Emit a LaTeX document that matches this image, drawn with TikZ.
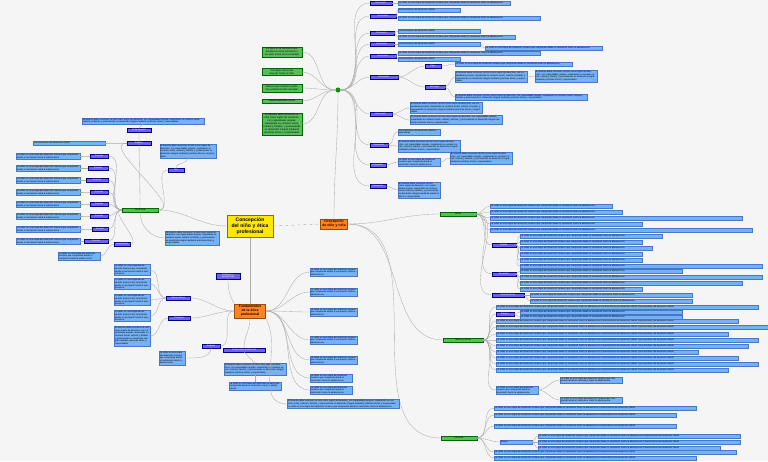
\documentclass[tikz,border=0pt]{standalone}
\usepackage{fontspec}
\setmainfont{Liberation Sans}
\definecolor{bfill}{RGB}{118,176,245}
\definecolor{bdraw}{RGB}{70,120,200}
\definecolor{pfill}{RGB}{112,96,240}
\definecolor{gfill}{RGB}{88,190,92}
\begin{document}
\begin{tikzpicture}[x=1pt,y=-1pt,
 base/.style={font=\fontsize{2.2}{2.6}\selectfont,inner sep=0.8pt,align=left,text width=#1},
 bl/.style={base=#1,fill=bfill,draw=bdraw,line width=0.2pt},
 pu/.style={base=#1,fill=pfill,draw=blue!50!black,line width=0.2pt,text=white,align=center},
 gr/.style={font=\fontsize{2.5}{3}\selectfont,fill=gfill,draw=green!40!black,line width=0.3pt,align=center,inner sep=1pt,text width=#1},
 orn/.style={font=\fontsize{3.4}{4}\selectfont\bfseries,fill=orange!85!red!85!white,draw=orange!60!black,line width=0.3pt,align=center,inner sep=1.6pt,text width=#1},
 con/.style={draw=gray!65,line width=0.35pt}]
\useasboundingbox (0,0) rectangle (768,461);
\fill[gray!8] (0,0) rectangle (768,461);
\def\s{Características del desarrollo infantil}
\def\m{La niñez es una etapa del desarrollo humano que comprende desde el nacimiento hasta la adolescencia}
\def\l{El docente debe reconocer al niño como sujeto de derechos, con capacidades propias, respetando su contexto social, cultural y familiar, y promoviendo su desarrollo integral mediante prácticas éticas y responsables}
\newcommand\Rn[6][bl=60]{\node[#1,anchor=west] (#2) at (#3,#4) {#5}; \draw[con] (#6.east) to[out=0,in=180] (#2.west);}
\newcommand\Ln[6][bl=60]{\node[#1,anchor=east] (#2) at (#3,#4) {#5}; \draw[con] (#6.west) to[out=180,in=0] (#2.east);}
\node[font=\fontsize{5}{6}\selectfont\bfseries,fill=yellow!90!orange,draw=orange!70!black,line width=0.3pt,align=center,text width=40,inner sep=3pt] (C) at (250,226) {Concepción del niño y ética profesional};
\node[orn=24] (N) at (334,224) {Concepción de niño y niña};
\node[orn=28] (F) at (250,311) {Fundamentos de la ética profesional};
\node[gr=34] (D) at (140,210) {Docencia};
\draw[con,dashed] (C.east) -- (N.west);
\draw[con] (C.south) -- (F.north);
\draw[con] (C.west) to[out=180,in=0] (D.east);
\node[circle,fill=green!60!black,inner sep=1.8pt] (G) at (338,90) {};
\draw[con] (N.north) to[out=90,in=-90] (G.south);
\Ln[gr=38]{g1}{302}{52}{La ética es la disciplina que estudia los actos humanos y su valor moral en la sociedad}{G}
\Ln[gr=38]{g2}{302}{72}{Principios éticos del docente frente al niño}{G}
\Ln[gr=38]{g3}{302}{88}{Valores que orientan la práctica profesional del educador}{G}
\Ln[gr=38]{g4}{302}{101}{Responsabilidad social}{G}
\Ln[gr=38]{g5}{302}{124}{\l}{G}
\foreach \i/\y/\w in {1/3/20,2/16/24,3/33/22,4/44/22,5/56/24,6/77/26,7/114/20,8/145/16,9/165/14,10/186/14}{
 \Rn[pu=\w]{p\i}{370}{\y}{Dimensión}{G}}
\Rn[bl=110]{t1}{398}{3}{\m}{p1}
\Rn[bl=60]{t2}{398}{10}{\s}{p2}
\Rn[bl=140]{t3}{398}{18}{\m}{p2}
\Rn[bl=80]{t4}{398}{31}{\s}{p3}
\Rn[bl=115]{t5}{398}{37}{\m}{p3}
\Rn[bl=80]{t6}{398}{44}{\s}{p4}
\Rn[bl=140]{t7}{398}{53}{\m}{p5}
\Rn[bl=60]{t8}{398}{59}{\s}{p5}
\Rn[pu=14]{q1}{425}{66}{Tipos}{p6}
\Rn[pu=18]{q2}{425}{87}{Enfoques}{p6}
\Rn[bl=115]{t9}{455}{64}{\m}{q1}
\Rn[bl=70]{t10}{455}{77}{\l}{q2}
\Rn[bl=130]{t11}{455}{97}{\l}{q2}
\Rn[bl=60]{t11b}{535}{76}{\l}{t10}
\Rn[bl=115]{t11c}{485}{48}{\m}{t6}
\Rn[bl=70]{t12}{410}{108}{\l}{p7}
\Rn[bl=90]{t13}{410}{120}{\l}{p7}
\Rn[bl=40]{t14}{398}{132}{\s\ y aprendizaje}{p8}
\Rn[bl=60]{t15}{398}{146}{\l}{p8}
\Rn[bl=40]{t16}{398}{162}{\m}{p9}
\Rn[bl=60]{t17}{450}{158}{\l}{t16}
\Rn[bl=40]{t18}{398}{190}{\l}{p10}
\node[gr=34] (A) at (458,214) {Niñez};
\draw[con] (N.east) to[out=0,in=180] (A.west);
\foreach \i/\y/\w in {1/206/120,2/212/130,3/218/250,4/224/150,5/230/260}{\Rn[bl=\w]{a\i}{490}{\y}{\m}{A}}
\Rn[pu=22]{ap1}{492}{245}{Etapas}{A}
\Rn[pu=22]{ap2}{492}{274}{Desarrollo}{A}
\Rn[pu=30]{ap3}{492}{295}{Características}{A}
\foreach \i/\y/\w in {1/236/140,2/242/120,3/248/130,4/254/120,5/260/120,6/266/240}{\Rn[bl=\w]{b\i}{520}{\y}{\m}{ap1}}
\foreach \i/\y/\w in {1/271/160,2/277/240,3/283/220,4/289/120}{\Rn[bl=\w]{c\i}{520}{\y}{\m}{ap2}}
\foreach \i/\y/\w in {1/295/160,2/301/160}{\Rn[bl=\w]{d\i}{530}{\y}{\m}{ap3}}
\node[gr=38] (B) at (463,340) {Niños y niñas};
\draw[con] (N.east) to[out=0,in=180] (B.west);
\foreach \i/\y/\w in {1/307/260,2/321/240,3/327/270,4/334/230,5/340/260,6/346/250,7/352/200,8/358/240,9/364/260,10/370/230}{\Rn[bl=\w]{e\i}{496}{\y}{\m\ \s\ \s}{B}}
\Rn[pu=16]{ep}{496}{314}{Rasgos}{B}
\Rn[bl=160]{ep1}{520}{312}{\m}{ep}
\Rn[bl=160]{ep2}{520}{317}{\m}{ep}
\Rn[bl=40]{ef}{496}{390}{\m}{B}
\Rn[bl=60]{ef1}{560}{380}{\m}{ef}
\Rn[bl=60]{ef2}{560}{400}{\m}{ef}
\node[gr=34] (I) at (459,438) {Infancia};
\draw[con] (N.east) to[out=0,in=180] (I.west);
\foreach \i/\y/\w in {1/408/200,2/415/180,3/426/180,4/452/240,5/458/200}{\Rn[bl=\w]{f\i}{494}{\y}{\m\ \s}{I}}
\Rn[bl=30]{fp}{500}{442}{Etapas}{I}
\foreach \i/\y/\w in {1/436/200,2/442/200,3/448/180}{\Rn[bl=\w]{h\i}{538}{\y}{\m\ \s}{fp}}
\Rn[pu=22]{dv}{127}{143}{Ámbitos}{D}
\node[pu=22] (du) at (139,130) {Perfil docente};
\draw[con] (D.north) to[out=90,in=-90] (du.south);
\node[bl=120,anchor=south] (dut) at (143,124) {\l};
\draw[con] (du.north) -- (dut.south);
\Ln[bl=70]{dvt}{105}{143}{\s}{dv}
\foreach \i/\y/\w in {1/156/16,2/168/18,3/180/20,4/192/16,5/204/16,6/216/16,7/229/14,8/241/22}{
 \Ln[pu=\w]{dp\i}{108}{\y}{Función}{D}
 \Ln[bl=62]{dt\i}{80}{\y}{\m}{dp\i}}
\Ln[pu=14]{dq}{130}{244}{Importancia}{D}
\Ln[bl=40]{dqt}{100}{256}{\m}{dq}
\Rn[pu=14]{dr}{168}{170}{Rol}{D}
\node[bl=55,anchor=south] (drt) at (188,158) {\l};
\draw[con] (dr.north) to[out=90,in=-90] (drt.south);
\node[bl=52] (dz) at (192,238) {\l};
\draw[con] (D.south) to[out=-90,in=180] (dz.west);
\foreach \i/\y/\w in {1/272/45,2/292/45,3/312/45,4/340/45,5/360/45,6/378/40,7/390/40}{\Rn[bl=\w]{k\i}{310}{\y}{\m}{F}}
\node[pu=22] (fu) at (228,276) {Enfoques y perspectivas};
\draw[con] (F.north west) to[out=120,in=-90] (fu.south);
\Ln[pu=22]{fp1}{190}{298}{Valores éticos}{F}
\Ln[pu=20]{fp2}{190}{318}{Principios}{F}
\Ln[pu=16]{fp3}{220}{346}{Deberes}{F}
\foreach \i/\y in {1/270,2/284,3/300,4/316}{\Ln[bl=34]{fl\i}{150}{\y}{\m}{fp1}}
\Ln[bl=34]{fl5}{150}{336}{\l}{fp2}
\node[bl=24] (fq) at (172,358) {\m};
\draw[con] (fp3.south) to[out=-90,in=0] (fq.east);
\node[pu=40] (fr) at (244,350) {Compromiso profesional};
\draw[con] (F.south) to[out=-90,in=90] (fr.north);
\node[bl=60] (fr1) at (255,369) {\l};
\node[bl=50] (fr2) at (255,386) {\m};
\draw[con] (fr.south) -- (fr1.north);
\draw[con] (fr1.south) -- (fr2.north);
\node[bl=110] (fz) at (343,404) {\l\ \m};
\draw[con] (F.south east) to[out=-60,in=180] (fz.west);
\end{tikzpicture}
\end{document}
